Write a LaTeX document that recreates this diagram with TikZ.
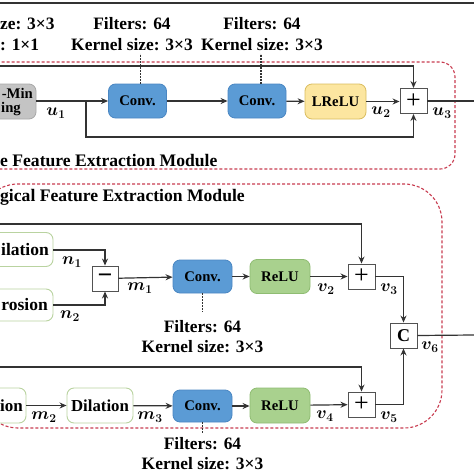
\documentclass[tikz,border=0pt]{standalone}
\usepackage{fontspec}
\setmainfont{Liberation Serif}
\usepackage{bm}
\usetikzlibrary{arrows.meta,calc}
\definecolor{convblue}{HTML}{5B9BD5}
\definecolor{convedge}{HTML}{4A86C2}
\definecolor{lreluyel}{HTML}{FCE6A0}
\definecolor{lreluedge}{HTML}{D9BC5E}
\definecolor{relugreen}{HTML}{A9D18E}
\definecolor{reluedge}{HTML}{8FBC72}
\definecolor{morphedge}{HTML}{B9D3A0}
\definecolor{grayfill}{HTML}{C4C4C4}
\definecolor{grayedge}{HTML}{A8A8A8}
\definecolor{dashred}{HTML}{C83C50}
\definecolor{linec}{HTML}{333333}
\begin{document}
\begin{tikzpicture}[x=1pt,y=-1pt,
  lbl/.style={font=\fontsize{17.4}{20}\selectfont\bfseries, inner sep=0},
  ttl/.style={font=\fontsize{17.6}{20}\selectfont\bfseries, inner sep=0},
  mth/.style={font=\fontsize{18.5}{20}\selectfont, inner sep=0},
  convbox/.style={draw=convedge, line width=0.8pt, fill=convblue, rounded corners=7pt, minimum width=58pt, minimum height=34pt, inner sep=0, font=\fontsize{14.7}{16}\selectfont\bfseries},
  lrelubox/.style={draw=lreluedge, line width=0.8pt, fill=lreluyel, rounded corners=7pt, minimum width=61pt, minimum height=35pt, inner sep=0, font=\fontsize{14.7}{16}\selectfont\bfseries},
  relubox/.style={draw=reluedge, line width=0.8pt, fill=relugreen, rounded corners=7pt, minimum width=60pt, minimum height=34pt, inner sep=0, font=\fontsize{14.7}{16}\selectfont\bfseries},
  morphbox/.style={draw=morphedge, line width=0.9pt, fill=white, rounded corners=7pt, minimum height=34pt, inner sep=0, font=\fontsize{16.8}{18}\selectfont\bfseries},
  graybox/.style={draw=grayedge, line width=0.8pt, fill=grayfill, rounded corners=7pt, minimum height=35pt, inner sep=0},
  opbox/.style={draw=linec!85, line width=0.9pt, fill=white, minimum width=27pt, minimum height=25pt, inner sep=0},
  conn/.style={draw=linec, line width=1.2pt},
  arr/.style={conn, -{Stealth[length=7pt,width=6pt]}},
  dotline/.style={draw=linec, line width=1.4pt, dash pattern=on 1.4pt off 1.6pt},
  reddash/.style={draw=dashred, line width=1.1pt, dash pattern=on 3pt off 2pt}
]
\useasboundingbox (0,0) rectangle (474,474);
% top frame line
\draw[draw=linec, line width=2pt] (0,3) -- (474,3);

% ---------------- upper module ----------------
\draw[reddash, rounded corners=15pt] (-20,62) rectangle (455,169);
\node[ttl, anchor=west] (t1) at (0,160) {e Feature Extraction Module};

\node[lbl, anchor=west] (ka) at (0,24) {ze: 3×3};
\node[lbl, anchor=west] (kb) at (0,45) {: 1×1};
\node[lbl] (f1) at (132,24) {Filters: 64};
\node[lbl] (k1) at (132,45) {Kernel size: 3×3};
\node[lbl] (f2) at (262,24) {Filters: 64};
\node[lbl] (k2) at (262,45) {Kernel size: 3×3};

\node[graybox, minimum width=66pt] (mm) at (3,101.5) {};
\node[font=\fontsize{14.7}{16}\selectfont\bfseries, inner sep=0, anchor=east] (mmt1) at (33,93) {-Min};
\node[font=\fontsize{14.7}{16}\selectfont\bfseries, inner sep=0, anchor=east] (mmt2) at (21,109) {ing};

\node[convbox] (conv1) at (137.5,101) {Conv.};
\node[convbox] (conv2) at (257,101) {Conv.};
\node[lrelubox] (lrelu) at (335.5,101.5) {LReLU};
\node[opbox] (plus1) at (413.5,101) {\fontsize{26}{26}\selectfont +};

\coordinate (in1) at (-5,66);
\coordinate (br1) at (86,101);
\coordinate (out1) at (474,101);

\draw[arr] (mm.east |- br1) -- (conv1.west);
\draw[arr] (conv1) -- (conv2);
\draw[arr] (conv2) -- (lrelu);
\draw[arr] (lrelu.east) -- (lrelu.east -| plus1.west);
\draw[conn] (plus1.east) -- (out1);
\draw[arr] (in1) -| (plus1.north);
\draw[arr] (br1) -- ++(0,36) -| (plus1.south);
\draw[dotline] ($(conv1.north)+(3,0)$) -- ++(0,-30);
\draw[dotline] ($(conv2.north)+(4,0)$) -- ++(0,-30);

\node[mth] (u1) at (56,113) {$\bm{u}_{\bm{1}}$};
\node[mth] (u2) at (381,112) {$\bm{u}_{\bm{2}}$};
\node[mth] (u3) at (442,113) {$\bm{u}_{\bm{3}}$};

% ---------------- lower module ----------------
\draw[reddash, rounded corners=38pt] (-20,184) rectangle (442,428);
\node[ttl, anchor=west] (t2) at (0,197) {gical Feature Extraction Module};

\coordinate (in2) at (-5,224);
\coordinate (in3) at (-5,367);

\node[morphbox, minimum width=73pt] (dil1) at (16.5,249.5) {};
\node[font=\fontsize{17.5}{18}\selectfont\bfseries, inner sep=0, anchor=east] (dil1t) at (49,250) {ilation};
\node[morphbox, minimum width=73pt, minimum height=32pt] (ero1) at (16.5,305) {};
\node[font=\fontsize{17.5}{18}\selectfont\bfseries, inner sep=0, anchor=east] (ero1t) at (48,305) {rosion};
\node[opbox, minimum width=26pt] (minus) at (105,278.5) {\fontsize{26}{26}\selectfont\bfseries −};

\node[convbox, minimum width=59pt, minimum height=33pt] (conv3) at (202.5,276.5) {Conv.};
\node[relubox] (relu1) at (280,276.5) {ReLU};
\node[opbox] (plus2) at (361.5,276.5) {\fontsize{26}{26}\selectfont +};
\node[opbox] (cat) at (403.5,335.5) {\fontsize{18}{18}\selectfont\bfseries C};
\coordinate (out2) at (474,335);

\node[lbl] (f3) at (202.5,327) {Filters: 64};
\node[lbl] (k3) at (202.5,347) {Kernel size: 3×3};

\node[morphbox, minimum width=46pt, minimum height=35pt] (ero2) at (3,405.5) {};
\node[font=\fontsize{17}{18}\selectfont\bfseries, inner sep=0, anchor=east] (ero2t) at (23,405.5) {ion};
\node[morphbox, minimum width=66pt, minimum height=35pt] (dil2) at (100,405.5) {Dilation};
\node[convbox, minimum width=59pt, minimum height=32pt] (conv4) at (202.5,406) {Conv.};
\node[relubox, minimum height=35pt] (relu2) at (280,405.5) {ReLU};
\node[opbox] (plus3) at (361.5,404.5) {\fontsize{26}{26}\selectfont +};

\node[lbl] (f4) at (202.5,444) {Filters: 64};
\node[lbl] (k4) at (202.5,464) {Kernel size: 3×3};

\draw[arr] (dil1.east |- dil1t.east) -| (minus.north);
\draw[arr] (ero1.east) -| (minus.south);
\draw[arr] (minus) -- (conv3);
\draw[arr] (conv3) -- (relu1);
\draw[arr] (relu1) -- (plus2);
\draw[arr] (in2) -| (plus2.north);
\draw[arr] (plus2.east) -| (cat.north);
\draw[conn] (cat.east) -- (out2);

\draw[arr] (ero2.east |- dil2.west) -- (dil2.west);
\draw[arr] (dil2) -- (conv4);
\draw[arr] (conv4.east) -- (relu2.west |- conv4.east);
\draw[arr] (relu2) -- (plus3);
\draw[arr] (in3) -| (plus3.north);
\draw[arr] (plus3.east) -| (cat.south);

\draw[dotline] (conv3.south) -- ++(0,19);
\draw[dotline] (conv4.south) -- ++(0,11);

\node[mth] (n1) at (72,262) {$\bm{n}_{\bm{1}}$};
\node[mth] (n2) at (70,316) {$\bm{n}_{\bm{2}}$};
\node[mth] (m1) at (140,288) {$\bm{m}_{\bm{1}}$};
\node[mth] (v2) at (326,289) {$\bm{v}_{\bm{2}}$};
\node[mth] (v3) at (389,289) {$\bm{v}_{\bm{3}}$};
\node[mth] (v6) at (430,347) {$\bm{v}_{\bm{6}}$};
\node[mth] (m2) at (44,417) {$\bm{m}_{\bm{2}}$};
\node[mth] (m3) at (150,417) {$\bm{m}_{\bm{3}}$};
\node[mth] (v4) at (325,416) {$\bm{v}_{\bm{4}}$};
\node[mth] (v5) at (389,417) {$\bm{v}_{\bm{5}}$};
\end{tikzpicture}
\end{document}
